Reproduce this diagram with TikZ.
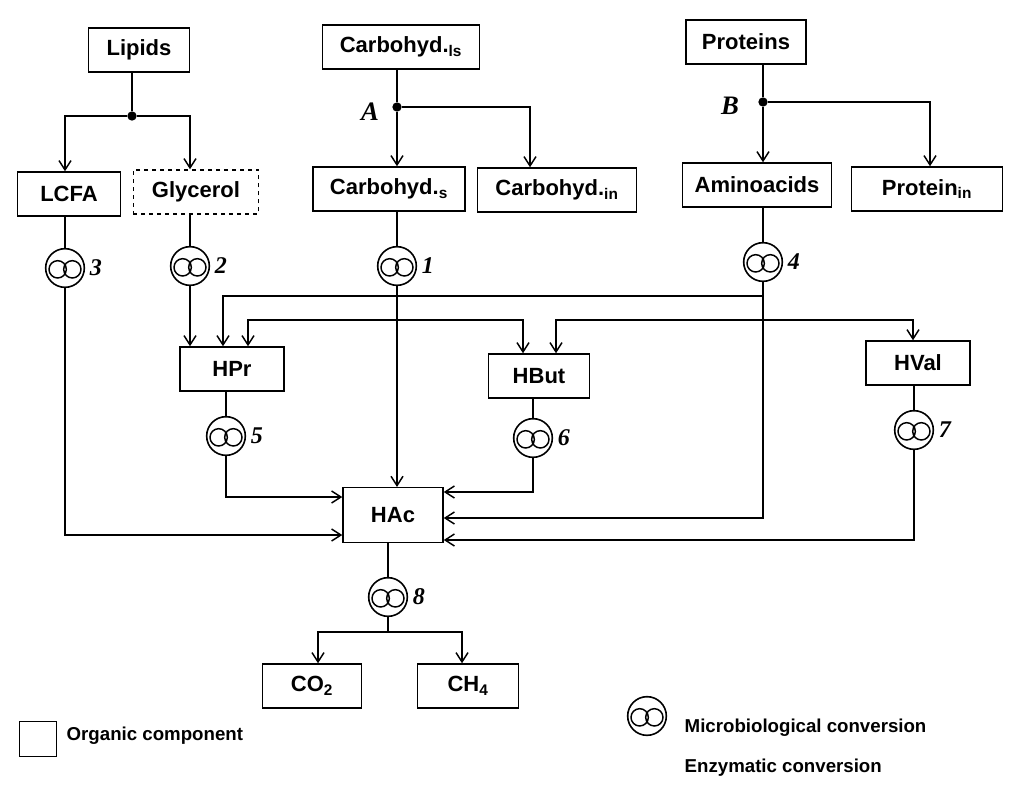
\documentclass[tikz,border=0pt]{standalone}
\usepackage{fontspec}
\setmainfont{Liberation Sans}
\newfontfamily\numfont{Liberation Serif}
\usetikzlibrary{arrows.meta,calc}
\begin{document}
\begin{tikzpicture}[x=0.75pt,y=-0.75pt,
  box/.style={draw,line width=1.1pt,font=\bfseries\fontsize{16.5}{19}\selectfont,minimum height=33pt,inner sep=2pt},
  conv/.style={draw,circle,line width=1.2pt,minimum size=29pt,inner sep=0pt,
    path picture={
      \draw[line width=1.1pt] ($(path picture bounding box.center)+(-5.5pt,-1pt)$) circle (6.5pt);
      \draw[line width=1.1pt] ($(path picture bounding box.center)+(5.5pt,-1pt)$) circle (6.5pt);
    }},
  num/.style={font=\numfont\bfseries\itshape\fontsize{18}{20}\selectfont},
  ln/.style={line width=1.1pt},
  tip/.tip={Straight Barb[length=7pt,width=9pt,line width=1.1pt]},
  ar/.style={ln,-tip},
  arr/.style={ln,tip-tip},
  dot/.style={circle,fill,inner sep=0pt,minimum size=7pt},
  leg/.style={font=\bfseries\fontsize{14}{16}\selectfont,anchor=west}
]
\useasboundingbox (0,0) rectangle (1017,796);
% boxes
\node[box,minimum width=76pt] (lipids) at (139,50) {Lipids};
\node[box,minimum width=118pt] (carbls) at (401,47) {Carbohyd.\textsubscript{ls}};
\node[box,minimum width=90pt] (prot) at (746,42) {Proteins};
\node[box,minimum width=77pt] (lcfa) at (69,194) {LCFA};
\node[box,dashed,minimum width=94pt] (glyc) at (196,192) {Glycerol};
\node[box,minimum width=114pt] (cs) at (389,189) {Carbohyd.\textsubscript{s}};
\node[box,minimum width=119pt] (cin) at (557,190) {Carbohyd.\textsubscript{in}};
\node[box,minimum width=112pt] (amino) at (757,185) {Aminoacids};
\node[box,minimum width=113pt] (pin) at (927,189) {Protein\textsubscript{in}};
\node[box,minimum width=78pt] (hpr) at (232,369) {HPr};
\node[box,minimum width=76pt] (hbut) at (539,376) {HBut};
\node[box,minimum width=78pt] (hval) at (918,363) {HVal};
\node[box,minimum width=75pt,minimum height=41pt] (hac) at (393,515) {HAc};
\node[box,minimum width=74pt] (co2) at (312,686) {CO\textsubscript{2}};
\node[box,minimum width=76pt] (ch4) at (468,686) {CH\textsubscript{4}};
% conversions
\node[conv] (c3) at (65,268) {}; \node[num,right] at (c3.east) {3};
\node[conv] (c2) at (190,266) {}; \node[num,right] at (c2.east) {2};
\node[conv] (c1) at (397,266) {}; \node[num,right] at (c1.east) {1};
\node[conv] (c4) at (763,262) {}; \node[num,right] at (c4.east) {4};
\node[conv] (c5) at (226,436) {}; \node[num,right] at (c5.east) {5};
\node[conv] (c6) at (533,438) {}; \node[num,right] at (c6.east) {6};
\node[conv] (c7) at (914,430) {}; \node[num,right] at (c7.east) {7};
\node[conv] (c8) at (388,597) {}; \node[num,right] at (c8.east) {8};
% split points
\node[dot] (dl) at (132,116) {};
\node[dot] (dA) at (397,107) {};
\node[dot] (dB) at (763,102) {};
\node[font=\numfont\bfseries\itshape\fontsize{20}{22}\selectfont] (lA) at (370,112) {A};
\node[font=\numfont\bfseries\itshape\fontsize{20}{22}\selectfont] (lB) at (730,106) {B};
% top splits
\draw[ln] (lipids.south -| dl) -- (dl);
\draw[ar] (dl) -| (lcfa.north -| 65,0);
\draw[ar] (dl) -| (glyc.north -| 190,0);
\draw[ln] (carbls.south -| dA) -- (dA);
\draw[ar] (dA) -- (cs.north -| dA);
\draw[ar,line width=1.6pt] (dA) -| (cin.north -| 530,0);
\draw[ln] (prot.south -| dB) -- (dB);
\draw[ar] (dB) -- (amino.north -| dB);
\draw[ar] (dB) -| (pin.north -| 930,0);
% stems to conversions
\draw[ln] (lcfa.south -| c3) -- (c3);
\draw[ln] (glyc.south -| c2) -- (c2);
\draw[ln] (cs.south -| c1) -- (c1);
\draw[ln] (amino.south -| c4) -- (c4);
\draw[ln,line width=1.8pt] (hpr.south -| c5) -- (c5);
\draw[ln] (hbut.south -| c6) -- (c6);
\draw[ln] (hval.south -| c7) -- (c7);
\draw[ln] (hac.south -| c8) -- (c8);
% to acids
\draw[ar] (c2) -- (hpr.north -| c2);
\draw[ar] (c4) |- (223,296) -- (hpr.north -| 223,0);
\draw[arr] (hbut.north -| 556,0) -- (556,320) -- (913,320) -- (hval.north -| 913,0);
\draw[arr] (hpr.north -| 248,0) -- (248,320) -- (523,320) -- (hbut.north -| 523,0);
% to HAc
\draw[ar] (c1) -- (hac.north -| c1);
\draw[ar] (c3) |- (hac.west |- 0,535);
\draw[ar] (c5) |- (hac.west |- 0,497);
\draw[ar] (c6) |- (hac.east |- 0,492);
\draw[ar] (c4) |- (hac.east |- 0,518);
\draw[ar] (c7) |- (hac.east |- 0,540);
% products
\draw[ln] (c8) -- (c8 |- 0,632);
\draw[ar] (c8 |- 0,632) -| (co2.north -| 318,0);
\draw[ar] (c8 |- 0,632) -| (ch4.north -| 462,0);
% legend
\node[box,minimum width=28pt,minimum height=26pt] (lbox) at (38,739) {};
\node[leg] (lboxt) at (62,736) {Organic component};
\node[conv] (lconv) at (647,716) {};
\node[leg] (lct) at (680,728) {Microbiological conversion};
\node[leg] (let) at (680,768) {Enzymatic conversion};
\end{tikzpicture}
\end{document}
